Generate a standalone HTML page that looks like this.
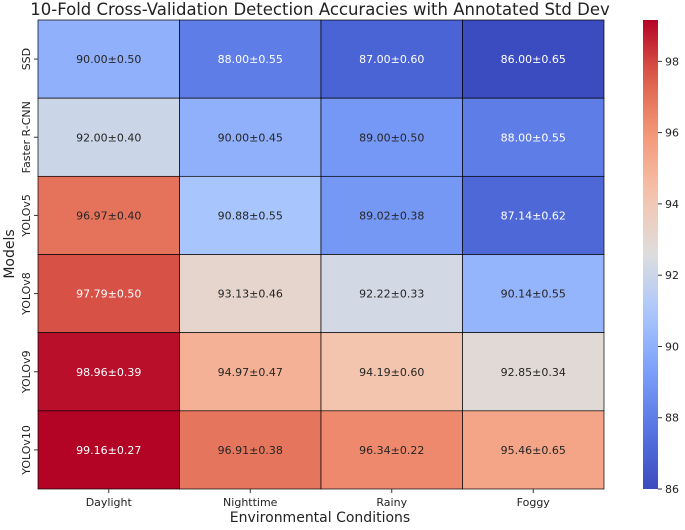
<!DOCTYPE html>
<html><head><meta charset="utf-8"><style>
body{margin:0;background:#fff;}
svg text{font-family:"DejaVu Sans","Liberation Sans",sans-serif;}
</style></head><body>
<svg id="chart" width="685" height="525" viewBox="0 0 685 525" xmlns="http://www.w3.org/2000/svg">
<defs><linearGradient id="cbgrad" x1="0" y1="1" x2="0" y2="0"></linearGradient></defs>
<text x="320" y="15" font-size="16.5" text-anchor="middle" fill="#222">10-Fold Cross-Validation Detection Accuracies with Annotated Std Dev</text>
<g id="cells"></g>
<g id="axes"></g>
<text x="320" y="522" font-size="14" text-anchor="middle" fill="#222">Environmental Conditions</text>
<text transform="translate(14,254) rotate(-90)" font-size="14" text-anchor="middle" fill="#222">Models</text>
<rect x="643" y="20" width="15" height="469" fill="url(#cbgrad)"/>
<g id="cbticks"></g>
</svg>
<script>
const models=["SSD","Faster R-CNN","YOLOv5","YOLOv8","YOLOv9","YOLOv10"];
const conditions=["Daylight","Nighttime","Rainy","Foggy"];
const means=[[90.00,88.00,87.00,86.00],[92.00,90.00,89.00,88.00],[96.97,90.88,89.02,87.14],[97.79,93.13,92.22,90.14],[98.96,94.97,94.19,92.85],[99.16,96.91,96.34,95.46]];
const stds=[[0.50,0.55,0.60,0.65],[0.40,0.45,0.50,0.55],[0.40,0.55,0.38,0.62],[0.50,0.46,0.33,0.55],[0.39,0.47,0.60,0.34],[0.27,0.38,0.22,0.65]];
const cbTicks=[86,88,90,92,94,96,98];
const NS="http://www.w3.org/2000/svg";
const X0=38,X1=604,Y0=20,Y1=489;
const flat=means.flat();const vmin=Math.min(...flat),vmax=Math.max(...flat);
const cw=(X1-X0)/conditions.length,ch=(Y1-Y0)/models.length;
const stops=[[59,76,192],[86,116,226],[124,159,249],[170,199,253],[221,221,221],[245,196,173],[244,154,123],[222,96,76],[180,4,38]];
function cmap(v){let t=(v-vmin)/(vmax-vmin);t=Math.max(0,Math.min(1,t));const p=t*(stops.length-1);const i=Math.min(stops.length-2,Math.floor(p));const f=p-i;const a=stops[i],b=stops[i+1];return [0,1,2].map(k=>Math.round(a[k]+(b[k]-a[k])*f));}
function mk(tag,at,parent){const e=document.createElementNS(NS,tag);for(const k in at)e.setAttribute(k,at[k]);parent.appendChild(e);return e;}
const cells=document.getElementById('cells'),axes=document.getElementById('axes');
models.forEach((m,r)=>{conditions.forEach((c,j)=>{
 const col=cmap(means[r][j]);
 const rect=mk('rect',{x:X0+j*cw,y:Y0+r*ch,width:cw,height:ch,fill:`rgb(${col})`,stroke:'#000','stroke-width':0.7},cells);
 
 
 const lum=(0.2126*col[0]+0.7152*col[1]+0.0722*col[2])/255;
 const t=mk('text',{x:X0+(j+0.5)*cw,y:Y0+(r+0.5)*ch+4,'font-size':11,'text-anchor':'middle',fill:lum<0.53?'#fff':'#262626'},cells);
 t.textContent=means[r][j].toFixed(2)+'±'+stds[r][j].toFixed(2);
 
 
});});
conditions.forEach((c,j)=>{const x=X0+(j+0.5)*cw;
 mk('line',{x1:x,x2:x,y1:Y1,y2:Y1+4,stroke:'#333'},axes);
 const t=mk('text',{x:x,y:Y1+17,'font-size':11,'text-anchor':'middle',fill:'#222'},axes);t.textContent=c;
 
 });
models.forEach((m,r)=>{const y=Y0+(r+0.5)*ch;
 mk('line',{x1:X0-4,x2:X0,y1:y,y2:y,stroke:'#333'},axes);
 const t=mk('text',{transform:`translate(${X0-8},${y}) rotate(-90)`,'font-size':11,'text-anchor':'middle',fill:'#222'},axes);t.textContent=m;
 
 });
const g=document.getElementById('cbgrad');
for(let i=0;i<=20;i++){const col=cmap(vmin+(vmax-vmin)*i/20);mk('stop',{offset:(i*5)+'%','stop-color':`rgb(${col})`},g);}
const cb=document.getElementById('cbticks');
cbTicks.forEach(v=>{const y=Y1-(v-vmin)/(vmax-vmin)*(Y1-Y0);
 mk('line',{x1:658,x2:662,y1:y,y2:y,stroke:'#333'},cb);
 const t=mk('text',{x:665,y:y+4,'font-size':11,fill:'#222'},cb);t.textContent=v;
 
 });
</script>
</body></html>
